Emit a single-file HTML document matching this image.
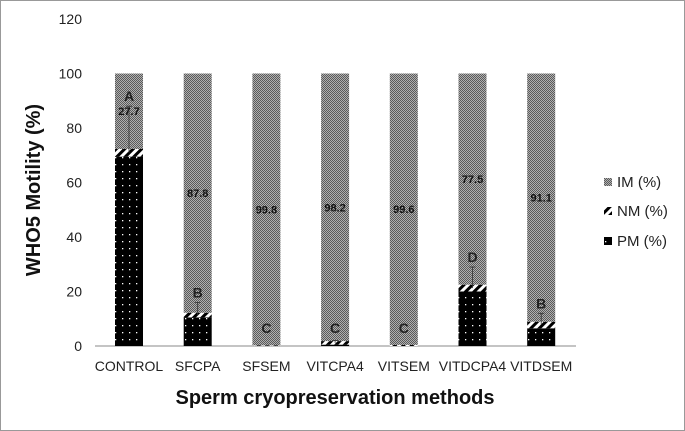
<!DOCTYPE html>
<html><head><meta charset="utf-8"><style>
body{margin:0;background:#fff}
svg{display:block;font-family:"Liberation Sans",sans-serif}
</style></head><body>
<svg id="c" width="685" height="431">
<defs>
<pattern id="pim" width="2" height="2" patternUnits="userSpaceOnUse"><rect width="2" height="2" fill="#b0b0b0"/><rect width="1" height="1" fill="#5a5a5a"/><rect x="1" y="1" width="1" height="1" fill="#5a5a5a"/></pattern>
<pattern id="pnm" width="6" height="6" patternUnits="userSpaceOnUse" patternTransform="rotate(45)"><rect width="6" height="6" fill="#fff"/><rect width="3" height="6" fill="#000"/></pattern>
<pattern id="ppm" width="7" height="7" patternUnits="userSpaceOnUse"><rect width="7" height="7" fill="#000"/><rect x="3" y="3" width="1.3" height="1.3" fill="#fff"/></pattern>
</defs>
<rect x="0.5" y="0.5" width="684" height="430" fill="none" stroke="#999"/>
<g id="g"></g>
</svg>
<script>
const categories=["CONTROL","SFCPA","SFSEM","VITCPA4","VITSEM","VITDCPA4","VITDSEM"];
const pmValues=[69.5,10.5,0,0.5,0,20,6.5];
const nmValues=[2.8,1.7,0.2,1.3,0.4,2.5,2.4];
const imValues=[27.7,87.8,99.8,98.2,99.6,77.5,91.1];
const imLabels=["27.7","87.8","99.8","98.2","99.6","77.5","91.1"];
const errTops=[88,16,0,2,0,29,12];
const letters=["A","B","C","C","C","D","B"];
const yTicks=[0,20,40,60,80,100,120];
const NS="http://www.w3.org/2000/svg",g=document.getElementById('g');
const y=v=>346-v*(327/120), x=i=>129+i*68.7, bw=28;
function el(t,a,txt){const e=document.createElementNS(NS,t);for(const k in a)e.setAttribute(k,a[k]);if(txt!=null)e.textContent=txt;g.appendChild(e);return e;}
yTicks.forEach(v=>{const t=el('text',{x:82,y:y(v)+5,'text-anchor':'end','font-size':14,fill:'#222'},v);

});
const ax=el('line',{x1:95,x2:576,y1:346,y2:346,stroke:'#888'});


categories.forEach((c,i)=>{
 const cx=x(i),l=cx-bw/2;let b=0;
 [[pmValues[i],'ppm','pm'],[nmValues[i],'pnm','nm'],[imValues[i],'pim','im']].forEach(([v,p,n])=>{
  const r=el('rect',{x:l,y:y(b+v),width:bw,height:y(b)-y(b+v),fill:'url(#'+p+')'});
  
  
  b+=v;});
 const base=pmValues[i]+nmValues[i]/2;
 if(errTops[i]>base){const e=el('path',{d:`M${cx} ${y(base)}V${y(errTops[i])}M${cx-3} ${y(errTops[i])}H${cx+3}`,stroke:'#333','stroke-width':0.8,fill:'none'});
 
 }
 const lt=el('text',{x:cx,y:y(Math.max(errTops[i],3))-5,'text-anchor':'middle','font-size':14,'font-weight':'bold',fill:'#222'},letters[i]);
 
 
 const vl=el('text',{x:cx,y:y(pmValues[i]+nmValues[i]+imValues[i]/2)+4,'text-anchor':'middle','font-size':11,'font-weight':'bold',fill:'#111'},imLabels[i]);
 
 
 const xl=el('text',{x:cx,y:371,'text-anchor':'middle','font-size':14,fill:'#222'},c);
 
 
});
const xt=el('text',{x:335,y:404,'text-anchor':'middle','font-size':20,'font-weight':'bold',fill:'#111'},'Sperm cryopreservation methods');


const yt=el('text',{x:0,y:0,'text-anchor':'middle','font-size':20,'font-weight':'bold',fill:'#111',transform:'translate(40,190) rotate(-90)'},'WHO5 Motility (%)');


[['IM (%)','pim',187],['NM (%)','pnm',216],['PM (%)','ppm',246]].forEach(([t,p,yy])=>{
 const s=el('rect',{x:604,y:yy-9,width:8,height:8,fill:'url(#'+p+')'});
 
 
 const tx=el('text',{x:617,y:yy,'font-size':15,fill:'#222'},t);
 
 
});
</script>
</body></html>
